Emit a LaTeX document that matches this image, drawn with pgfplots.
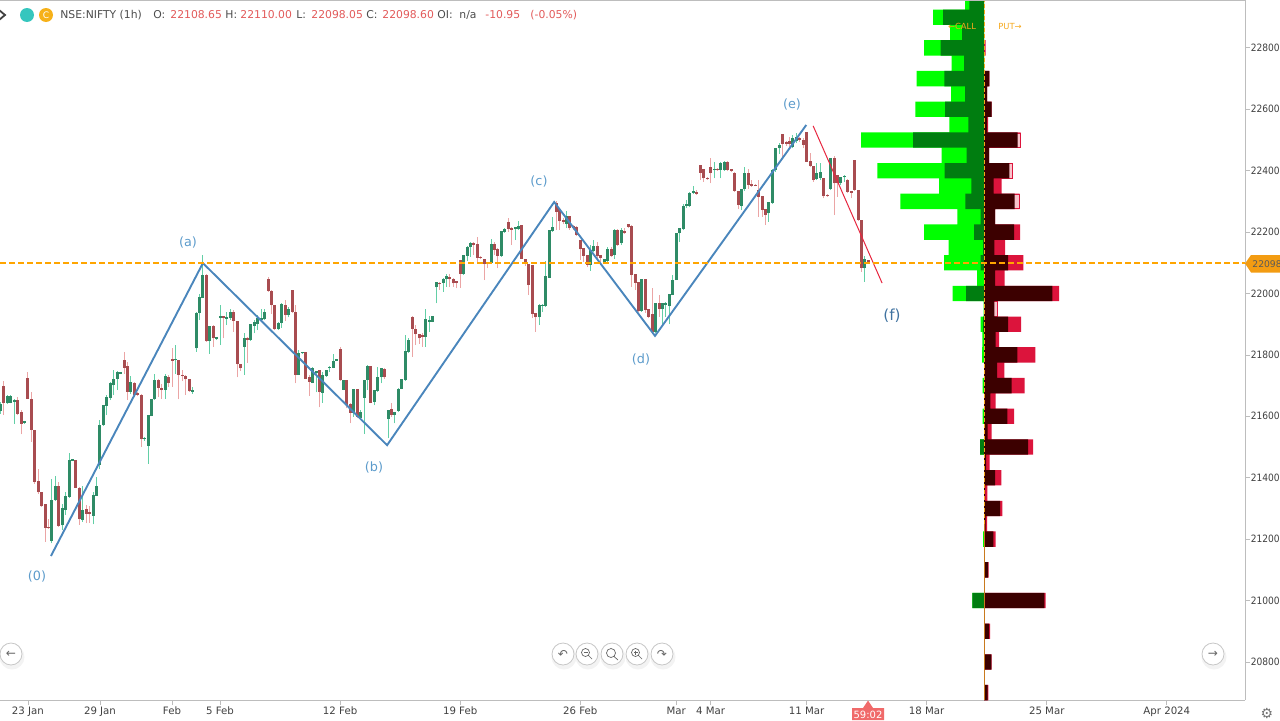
\documentclass[border=0pt]{standalone}
\usepackage{pgfplots}
\usepackage{pgfplotstable}
\usepackage{fontspec}
\pgfplotsset{compat=1.18}
\setmainfont{DejaVu Sans}
\newfontfamily\ticksfont{DejaVu Sans Condensed}
\definecolor{upbody}{HTML}{2E8B66}
\definecolor{upwick}{HTML}{63CFA6}
\definecolor{dnbody}{HTML}{A84C50}
\definecolor{dnwick}{HTML}{EBA5A5}
\definecolor{wave}{HTML}{4A86BC}
\definecolor{wavetext}{HTML}{5C9BCB}
\definecolor{hdrred}{HTML}{E25A5A}
\definecolor{amber}{HTML}{F5A81C}
\definecolor{pricetag}{HTML}{F39C12}
\definecolor{dashline}{HTML}{FFA500}
\definecolor{centreline}{HTML}{C97A1E}
\definecolor{frame}{HTML}{BDBDBD}
\definecolor{timer}{HTML}{F06A6A}
\definecolor{callbright}{HTML}{00FF00}
\definecolor{calldark}{HTML}{007D10}
\definecolor{putbright}{HTML}{DC143C}
\definecolor{putpale}{HTML}{F8C4CC}
\definecolor{putdark}{HTML}{3C0000}
\definecolor{legendteal}{HTML}{35C6BE}

% hourly candles: bar number, open, high, low, close
\pgfplotstableread{
i o h l c
0 21617 21647 21609 21640
1 21698 21716 21604 21642
2 21642 21669 21640 21666
3 21644 21669 21642 21666
4 21646 21655 21576 21653
5 21653 21663 21604 21607
6 21613 21620 21541 21576
7 21579 21584 21576 21584
8 21726 21745 21655 21657
9 21658 21680 21517 21555
10 21557 21557 21381 21386
11 21389 21430 21348 21352
12 21352 21352 21305 21307
13 21313 21316 21191 21237
14 21240 21267 21234 21235
15 21193 21397 21186 21329
16 21327 21405 21325 21372
17 21372 21386 21240 21244
18 21245 21316 21231 21300
19 21296 21354 21278 21341
20 21338 21479 21335 21457
21 21455 21459 21454 21459
22 21457 21459 21365 21367
23 21367 21370 21247 21264
24 21262 21372 21256 21294
25 21297 21310 21251 21283
26 21288 21307 21253 21281
27 21276 21354 21248 21343
28 21341 21401 21340 21372
29 21441 21587 21427 21573
30 21571 21636 21568 21636
31 21634 21669 21604 21663
32 21661 21712 21653 21707
33 21701 21750 21669 21720
34 21723 21748 21685 21743
35 21739 21745 21737 21743
36 21785 21810 21739 21759
37 21763 21777 21653 21680
38 21680 21731 21674 21712
39 21709 21712 21663 21669
40 21674 21680 21665 21670
41 21671 21674 21500 21525
42 21525 21532 21520 21529
43 21503 21604 21446 21604
44 21600 21658 21600 21658
45 21655 21737 21653 21718
46 21718 21722 21663 21693
47 21691 21705 21658 21685
48 21685 21739 21658 21731
49 21729 21734 21696 21709
50 21788 21821 21696 21781
51 21783 21832 21739 21785
52 21785 21785 21655 21736
53 21736 21750 21715 21731
54 21731 21734 21669 21720
55 21723 21723 21680 21682
56 21679 21696 21674 21685
57 21821 21940 21810 21938
58 21937 22000 21913 21989
59 21987 22125 21985 22060
60 22060 22062 21843 21845
61 21845 21894 21803 21894
62 21894 21896 21826 21854
63 21853 21857 21848 21857
64 21920 21962 21832 21926
65 21926 21928 21854 21920
66 21918 21940 21897 21922
67 21919 21948 21913 21940
68 21940 21946 21875 21910
69 21912 21912 21727 21770
70 21771 21772 21748 21756
71 21826 21870 21736 21854
72 21856 21859 21774 21848
73 21848 21900 21845 21900
74 21895 21913 21870 21908
75 21902 21930 21881 21919
76 21913 21951 21908 21919
77 21916 21951 21913 21940
78 22047 22055 22006 22008
79 22009 22011 21933 21962
80 21964 21964 21881 21884
81 21884 21908 21881 21905
82 21905 21970 21889 21965
83 21964 21978 21911 21930
84 21930 21957 21922 21948
85 22011 22013 21937 21940
86 21939 21962 21707 21736
87 21736 21816 21734 21805
88 21805 21808 21803 21808
89 21808 21808 21720 21723
90 21729 21734 21666 21712
91 21710 21761 21707 21758
92 21742 21745 21678 21745
93 21750 21750 21629 21679
94 21677 21745 21644 21734
95 21731 21752 21729 21750
96 21756 21763 21745 21761
97 21759 21803 21756 21781
98 21781 21785 21780 21785
99 21819 21826 21716 21718
100 21687 21718 21685 21718
101 21718 21718 21626 21636
102 21639 21642 21577 21611
103 21611 21689 21598 21689
104 21689 21689 21593 21598
105 21593 21620 21588 21613
106 21661 21718 21544 21718
107 21718 21767 21685 21765
108 21764 21764 21642 21644
109 21647 21685 21636 21685
110 21683 21761 21680 21729
111 21727 21759 21707 21756
112 21754 21756 21723 21727
113 21591 21620 21528 21620
114 21623 21644 21598 21604
115 21604 21615 21577 21615
116 21617 21691 21615 21689
117 21689 21723 21688 21720
118 21718 21865 21716 21812
119 21810 21854 21805 21850
120 21924 21926 21794 21884
121 21886 21897 21832 21868
122 21868 21868 21837 21854
123 21863 21870 21827 21859
124 21859 21951 21827 21916
125 21908 21926 21875 21913
126 21908 21928 21906 21928
127 22020 22036 21968 22036
128 22035 22036 22011 22030
129 22035 22049 22006 22048
130 22046 22065 22022 22057
131 22055 22065 22022 22046
132 22046 22052 22022 22033
133 22038 22040 22017 22035
134 22109 22109 22019 22063
135 22063 22125 22060 22125
136 22123 22155 22107 22152
137 22150 22169 22120 22165
138 22166 22169 22125 22158
139 22160 22185 22098 22117
140 22120 22122 22112 22115
141 22111 22114 22044 22096
142 22099 22100 22082 22096
143 22098 22176 22096 22160
144 22160 22169 22125 22142
145 22145 22147 22082 22122
146 22122 22202 22120 22202
147 22200 22214 22198 22211
148 22232 22245 22201 22210
149 22212 22218 22158 22207
150 22209 22218 22174 22217
151 22209 22237 22207 22221
152 22223 22223 22112 22114
153 22114 22114 22090 22096
154 22096 22096 21995 22027
155 22093 22093 21919 21933
156 21935 21935 21875 21922
157 21922 21965 21897 21964
158 21959 21965 21941 21964
159 21960 22107 21957 22057
160 22052 22207 22049 22207
161 22204 22250 22201 22217
162 22296 22300 22207 22266
163 22275 22278 22207 22236
164 22239 22245 22225 22234
165 22228 22270 22212 22252
166 22252 22252 22207 22212
167 22220 22224 22207 22212
168 22217 22220 22187 22190
169 22174 22174 22109 22144
170 22147 22147 22103 22123
171 22125 22125 22085 22093
172 22093 22158 22074 22142
173 22139 22174 22136 22155
174 22155 22169 22114 22122
175 22127 22127 22103 22117
176 22103 22114 22098 22114
177 22106 22152 22103 22144
178 22144 22152 22120 22122
179 22125 22209 22114 22207
180 22207 22209 22155 22158
181 22163 22212 22158 22207
182 22204 22212 22195 22196
183 22225 22228 22214 22218
184 22221 22223 22022 22060
185 22062 22062 22011 22035
186 22038 22038 21941 21944
187 21944 22046 21941 22046
188 22046 22046 21938 21946
189 21951 21951 21919 21924
190 21932 22019 21870 21875
191 21875 21970 21870 21970
192 21968 21995 21924 21948
193 21951 21970 21894 21970
194 21962 21973 21924 21970
195 21959 22000 21900 21998
196 21995 22060 21995 22044
197 22044 22196 22044 22196
198 22196 22212 22169 22212
199 22209 22293 22206 22286
200 22285 22304 22277 22288
201 22285 22331 22283 22329
202 22328 22351 22324 22331
203 22329 22337 22321 22325
204 22418 22418 22369 22393
205 22407 22407 22364 22375
206 22377 22380 22370 22372
207 22411 22440 22359 22391
208 22402 22429 22375 22407
209 22405 22410 22400 22402
210 22402 22429 22375 22426
211 22402 22430 22400 22429
212 22429 22433 22398 22402
213 22402 22405 22395 22399
214 22393 22397 22332 22334
215 22334 22334 22274 22288
216 22285 22340 22272 22340
217 22339 22413 22335 22391
218 22391 22407 22342 22353
219 22355 22369 22348 22351
220 22353 22356 22349 22350
221 22337 22369 22250 22315
222 22317 22317 22250 22272
223 22274 22274 22223 22255
224 22261 22299 22234 22299
225 22296 22407 22293 22402
226 22402 22473 22397 22473
227 22473 22489 22456 22484
228 22519 22519 22445 22487
229 22494 22496 22480 22487
230 22498 22509 22473 22487
231 22478 22516 22473 22505
232 22498 22522 22489 22511
233 22505 22510 22495 22500
234 22500 22505 22473 22484
235 22527 22527 22428 22429
236 22431 22459 22413 22415
237 22415 22415 22364 22369
238 22372 22424 22369 22393
239 22375 22424 22369 22397
240 22377 22377 22310 22317
241 22321 22323 22315 22317
242 22342 22440 22337 22440
243 22440 22448 22255 22359
244 22386 22386 22315 22359
245 22359 22380 22353 22380
246 22378 22386 22364 22381
247 22369 22372 22326 22331
248 22334 22334 22310 22329
249 22435 22435 22335 22337
250 22337 22337 22237 22239
251 22241 22241 22071 22082
252 22082 22122 22038 22111
253 22108.65 22110 22098.05 22098.6
}\candles

% open interest by strike, lengths measured from the centre line
\pgfplotstableread{
k callall callchg
22950 -19 -14.7
22900 -51 -41
22850 -34 -22
22800 -60 -43.3
22750 -32.3 -20
22700 -67.3 -39.7
22650 -33 -19
22600 -68.7 -39
22550 -34.7 -15.7
22500 -123 -71
22450 -42.3 -17.3
22400 -106.7 -39.3
22350 -45 -12.7
22300 -83.7 -18.7
22250 -26.7 -3.3
22200 -60 -10
22150 -35.3 -1
22100 -40 -3.3
22050 -7 0
22000 -31.3 -18
21950 -0.5 0
21900 -3.3 -1
21850 -1.7 0
21800 -2 0
21700 -1.3 0
21600 -1.3 0
21500 -4 -4
21200 -1 0
21000 -11.7 -11.7
}\calls
\pgfplotstableread{
k putall putchg
22800 1.7 0
22700 5.3 5.3
22650 3 3
22600 7.7 7.7
22550 4 3
22500 36.7 33.7
22450 5 5
22400 28.7 25.3
22350 17.7 9.7
22300 35.7 30.7
22250 11 11
22200 36 30
22150 21 10.3
22100 39.3 24
22050 20.7 11
22000 75 68.3
21950 13 10.3
21900 37 24
21850 15 11.7
21800 51.3 33.3
21750 20.3 13
21700 40.7 27.7
21650 11.7 6.3
21600 30 23.3
21550 7.7 3.7
21500 49 44
21450 5.7 2
21400 17.3 11
21350 3.3 1
21300 18.3 16
21250 3 1.7
21200 11.7 9.3
21100 4.7 4
21000 61.7 60.3
20900 6 5
20800 7.5 7.3
20700 4.3 3.7
}\puts

\begin{document}
\begin{tikzpicture}[every node/.style={inner sep=0pt}]
\path[use as bounding box] (0,0) rectangle (640pt,360pt);
\begin{axis}[
  at={(0pt,10pt)}, anchor=south west,
  scale only axis, width=622.5pt, height=350pt,
  xmin=-0.15, xmax=362.8, ymin=20676, ymax=22956,
  axis x line=bottom, axis y line=right,
  axis line style={frame, line width=0.5pt, -},
  tick style={frame, line width=0.4pt},
  tick align=outside, major tick length=2.5pt,
  xtick={8,29,50,64,99,134,169,197,207,235,270,305,340},
  xticklabels={23 Jan,29 Jan,Feb,5 Feb,12 Feb,19 Feb,26 Feb,Mar,4 Mar,11 Mar,18 Mar,25 Mar,Apr 2024},
  ytick={20800,21000,...,22800},
  scaled y ticks=false,
  yticklabel={\pgfmathprintnumber[fixed,precision=0,1000 sep={}]{\tick}.},
  /pgf/number format/assume math mode=true,
  tick label style={font=\fontsize{5.1pt}{6pt}\selectfont, text=black!75},
  xticklabel style={yshift=-0.9pt},
  yticklabel style={anchor=west, xshift=0.2pt, font=\fontsize{5.05pt}{6pt}\ticksfont},
  clip=true,
]
% wicks
\addplot[draw=none, restrict expr to domain={\thisrow{c}-\thisrow{o}}{0:100000},
  error bars/.cd, y dir=plus, y explicit, error mark=none,
  error bar style={upwick, line width=0.5pt}]
  table[x=i, y=l, y error plus expr=\thisrow{h}-\thisrow{l}] {\candles};
\addplot[draw=none, restrict expr to domain={\thisrow{o}-\thisrow{c}}{0.001:100000},
  error bars/.cd, y dir=plus, y explicit, error mark=none,
  error bar style={dnwick, line width=0.5pt}]
  table[x=i, y=l, y error plus expr=\thisrow{h}-\thisrow{l}] {\candles};
% bodies
\addplot[draw=none, restrict expr to domain={\thisrow{c}-\thisrow{o}}{0:100000},
  error bars/.cd, y dir=plus, y explicit, error mark=none,
  error bar style={upbody, line width=1.5pt}]
  table[x=i, y=o, y error plus expr={max(\thisrow{c}-\thisrow{o},5)}] {\candles};
\addplot[draw=none, restrict expr to domain={\thisrow{o}-\thisrow{c}}{0.001:100000},
  error bars/.cd, y dir=plus, y explicit, error mark=none,
  error bar style={dnbody, line width=1.5pt}]
  table[x=i, y=c, y error plus expr={max(\thisrow{o}-\thisrow{c},5)}] {\candles};
% wave count
\addplot[wave, line width=0.95pt, mark=none] coordinates {
  (14.7,21145) (59.0,22099) (112.7,21506) (161.4,22298) (190.8,21862) (234.9,22549)};
\addplot[red!55!purple!85!white, line width=0.5pt, mark=none] coordinates {(236.9,22546) (257,22034)};
\end{axis}

% call and put profile, same frame as the price axis
\begin{axis}[
  at={(0pt,10pt)}, anchor=south west,
  scale only axis, width=622.5pt, height=350pt,
  hide axis, xmin=-984, xmax=261, ymin=20676, ymax=22956,
  xbar, bar shift=0pt, bar width=7.67pt,
]
\addplot[fill=callbright, draw=none] table[x=callall, y=k] {\calls};
\addplot[fill=calldark, draw=none] table[x=callchg, y=k] {\calls};
\addplot[fill=putbright, draw=none] table[x=putall, y=k] {\puts};
\addplot[fill=putpale, draw=putbright, line width=0.3pt, bar width=7.2pt] coordinates {(36.7,22500) (28.7,22400) (35.7,22300) (13,21950)};
\addplot[fill=putdark, draw=none] table[x=putchg, y=k] {\puts};
\addplot[sharp plot, draw=centreline, line width=0.5pt, mark=none] coordinates {(0,20676) (0,21250)};
\addplot[sharp plot, draw=amber, line width=0.5pt, dash pattern=on 2pt off 1pt, mark=none] coordinates {(0,21250) (0,22956)};
\end{axis}

% last price line, over the bars
\begin{axis}[
  at={(0pt,10pt)}, anchor=south west,
  scale only axis, width=622.5pt, height=350pt,
  hide axis, xmin=-984, xmax=261, ymin=20676, ymax=22956,
]
\addplot[color=dashline, line width=0.95pt, dash pattern=on 3pt off 1.5pt, mark=none] coordinates {(-984,22098.6) (261,22098.6)};
\end{axis}

% chart furniture, in image pixels
\begin{scope}[yshift=360pt, x=0.5pt, y=-0.5pt, font=\fontsize{5.4pt}{6.5pt}\selectfont]
\draw[frame, line width=0.4pt] (0,0.3) -- (1245,0.3);
% legend line
\draw[black!75, line width=0.9pt] (-1,10) -- (5,15) -- (-1,20);
\fill[legendteal] (27,15) circle (7);
\fill[amber!90!yellow] (46,15) circle (7);
\node[text=white] at (46,15) {\fontsize{4.5pt}{5pt}\selectfont C};
\node[anchor=west, text=black!70] at (60,15) {NSE:NIFTY (1h)};
\node[anchor=west, text=black!70] at (153,15) {O:};
\node[anchor=west, text=hdrred] at (170,15) {22108.65};
\node[anchor=west, text=black!70] at (225,15) {H:};
\node[anchor=west, text=hdrred] at (240,15) {22110.00};
\node[anchor=west, text=black!70] at (296,15) {L:};
\node[anchor=west, text=hdrred] at (311,15) {22098.05};
\node[anchor=west, text=black!70] at (366,15) {C:};
\node[anchor=west, text=hdrred] at (382,15) {22098.60};
\node[anchor=west, text=black!70] at (437,15) {OI:};
\node[anchor=west, text=black!70] at (459,15) {n/a};
\node[anchor=west, text=hdrred] at (485,15) {-10.95};
\node[anchor=west, text=hdrred] at (530,15) {(-0.05\%)};
% wave labels
\foreach \t/\a/\b in {(0)/37/576,(a)/188/242,(b)/374/467,(c)/539/181,(d)/641/359,(e)/792/104}
  \node[text=wavetext, font=\fontsize{6.4pt}{7pt}\selectfont] at (\a,\b) {\t};
\node[text=wave!85!black, font=\fontsize{7.6pt}{8pt}\selectfont] at (892,316) {(f)};
% call put heads
\node[text=amber, font=\fontsize{4.2pt}{5pt}\selectfont] at (962,26) {←CALL};
\node[text=amber, font=\fontsize{4.2pt}{5pt}\selectfont] at (1010,26) {PUT→};
% last price tag
\fill[pricetag] (1245,263.5) -- (1251,255) -- (1280,255) -- (1280,272.5) -- (1251,272.5) -- cycle;
\node[anchor=west, text=black!65, font=\fontsize{4.6pt}{6pt}\selectfont] at (1252,264) {22098};
% bar countdown
\fill[timer] (852,708) -- (863,708) -- (868,700.5) -- (873,708) -- (884,708) -- (884,720) -- (852,720) -- cycle;
\node[text=white, font=\fontsize{5pt}{6pt}\selectfont] at (868,714.5) {59:02};
% buttons
\foreach \a/\s in {11/←,563/↶,587/,612/,637/,662/↷,1213/→}{
  \fill[black!18, opacity=0.25] (\a+1,657) circle (12.5);
  \filldraw[fill=white, draw=black!22, line width=0.4pt] (\a,654) circle (11);
  \node[text=black!60, font=\fontsize{6pt}{7pt}\selectfont] at (\a,654) {\s};
}
\draw[black!60, line width=0.35pt] (585.5,652.5) circle (4) (588.5,655.5) -- (592,659);
\draw[black!60, line width=0.35pt] (583.5,652.5) -- (587.5,652.5);
\draw[black!60, line width=0.35pt] (611,653) circle (4.5) (614,656.5) -- (618,660);
\draw[black!60, line width=0.35pt] (635.5,652.5) circle (4) (638.5,655.5) -- (642,659);
\draw[black!60, line width=0.35pt] (633.5,652.5) -- (637.5,652.5) (635.5,650.5) -- (635.5,654.5);
% settings
\node[text=black!55, font=\fontsize{7pt}{8pt}\selectfont] at (1267,714) {⚙};
\end{scope}
\end{tikzpicture}
\end{document}
